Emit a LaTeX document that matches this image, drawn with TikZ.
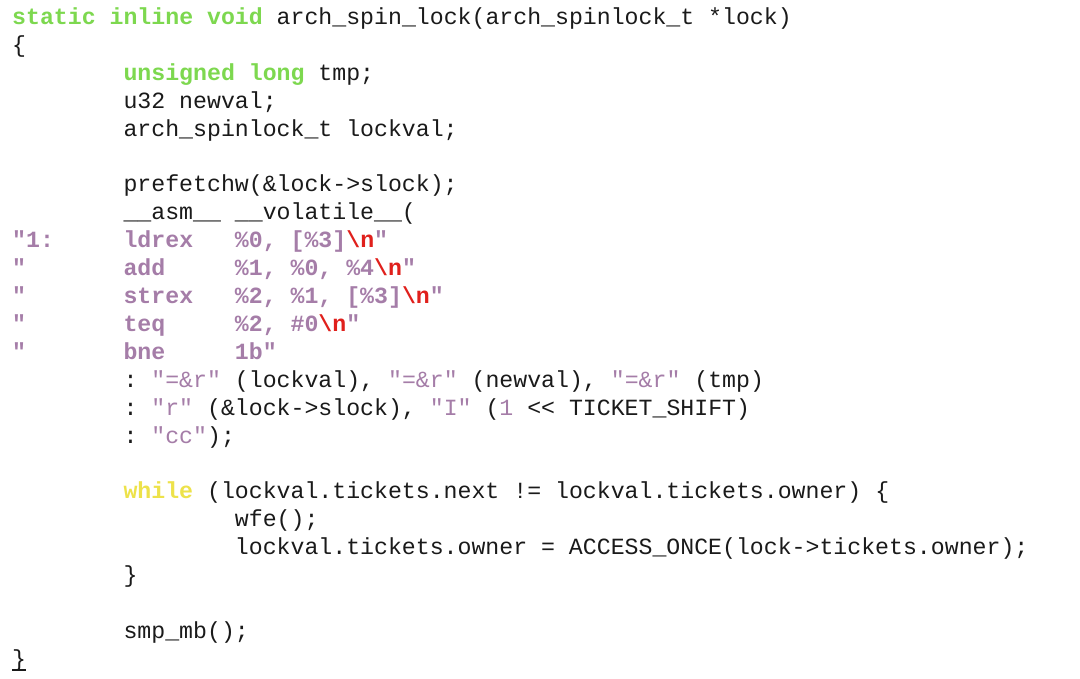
\documentclass[tikz,border=0pt]{standalone}
\usepackage{fontspec}
\newfontfamily\codefont{Liberation Mono}
\definecolor{kw}{HTML}{7DD84F}
\definecolor{wh}{HTML}{EDE24A}
\definecolor{st}{HTML}{A57DA8}
\definecolor{nl}{HTML}{E0201C}
\definecolor{tx}{HTML}{1A1A1A}
\newcommand\Kw[1]{\textcolor{kw}{\bfseries #1}}
\newcommand\Wh[1]{\textcolor{wh}{\bfseries #1}}
\newcommand\Sr[1]{\textcolor{st}{#1}}
\newcommand\Sb[1]{\textcolor{st}{\bfseries #1}}
\newcommand\Nl{\textcolor{nl}{\bfseries\textbackslash n}}
\begin{document}
\begin{tikzpicture}[x=1pt,y=-1pt]
\tikzset{ln/.style={anchor=base west,inner sep=0pt,text=tx,font=\codefont\fontsize{23.2}{27}\selectfont}}
\useasboundingbox[fill=white] (0,0) rectangle (1080,679);
\def\cw{13.92}
\def\lh{27.9}
\newcommand\Ln[4]{\node[ln] (#1) at ({12+#2*\cw},{24.5+#3*\lh}) {#4};}
\Ln{l0}{0}{0}{\Kw{static}~\Kw{inline}~\Kw{void}~arch\_spin\_lock(arch\_spinlock\_t~*lock)}
\Ln{l1}{0}{1}{\{}
\Ln{l2}{8}{2}{\Kw{unsigned}~\Kw{long}~tmp;}
\Ln{l3}{8}{3}{u32~newval;}
\Ln{l4}{8}{4}{arch\_spinlock\_t~lockval;}
\Ln{l6}{8}{6}{prefetchw(\&lock->slock);}
\Ln{l7}{8}{7}{\_\_asm\_\_~\_\_volatile\_\_(}
\Ln{l8}{0}{8}{\Sb{"1:~~~~~ldrex~~~\%0,~[\%3]}\Nl\Sb{"}}
\Ln{l9}{0}{9}{\Sb{"~~~~~~~add~~~~~\%1,~\%0,~\%4}\Nl\Sb{"}}
\Ln{l10}{0}{10}{\Sb{"~~~~~~~strex~~~\%2,~\%1,~[\%3]}\Nl\Sb{"}}
\Ln{l11}{0}{11}{\Sb{"~~~~~~~teq~~~~~\%2,~\#0}\Nl\Sb{"}}
\Ln{l12}{0}{12}{\Sb{"~~~~~~~bne~~~~~1b"}}
\Ln{l13}{8}{13}{:~\Sr{"=\&r"}~(lockval),~\Sr{"=\&r"}~(newval),~\Sr{"=\&r"}~(tmp)}
\Ln{l14}{8}{14}{:~\Sr{"r"}~(\&lock->slock),~\Sr{"I"}~(\Sr{1}~<<~TICKET\_SHIFT)}
\Ln{l15}{8}{15}{:~\Sr{"cc"});}
\Ln{l17}{8}{17}{\Wh{while}~(lockval.tickets.next~!=~lockval.tickets.owner)~\{}
\Ln{l18}{16}{18}{wfe();}
\Ln{l19}{16}{19}{lockval.tickets.owner~=~ACCESS\_ONCE(lock->tickets.owner);}
\Ln{l20}{8}{20}{\}}
\Ln{l22}{8}{22}{smp\_mb();}
\Ln{l23}{0}{23}{\}}
\draw[tx,line width=1.6pt] ([yshift=-4pt]l23.base west) -- ++(\cw,0);
\end{tikzpicture}
\end{document}
